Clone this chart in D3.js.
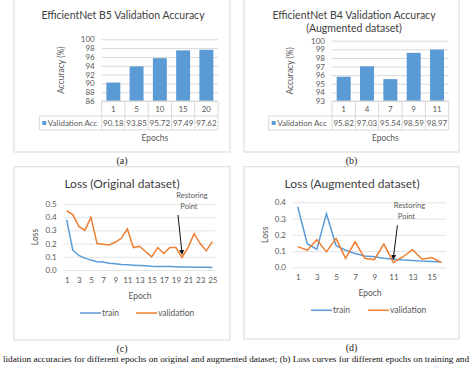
<!DOCTYPE html>
<html>
<head>
<meta charset="utf-8">
<script src="https://cdn.jsdelivr.net/npm/d3@7"></script>
<style>
  body { margin: 0; background: #fff; }
  svg { display: block; font-family: Lato, "Open Sans", sans-serif; }
</style>
</head>
<body>
<div id="chart"></div>
<script>
// chart data
var epochsB5 = ["1", "5", "10", "15", "20"];
var accB5 = [90.18, 93.85, 95.72, 97.49, 97.62];
var ticksB5 = [86, 88, 90, 92, 94, 96, 98, 100];

var epochsB4 = ["1", "4", "7", "9", "11"];
var accB4 = [95.82, 97.03, 95.54, 98.59, 98.97];
var ticksB4 = [93, 94, 95, 96, 97, 98, 99, 100];

var lossOrigTrain = [0.38, 0.15, 0.11, 0.09, 0.075, 0.063, 0.06, 0.052, 0.047, 0.042, 0.039, 0.036, 0.034,
  0.032, 0.028, 0.027, 0.027, 0.026, 0.025, 0.023, 0.022, 0.021, 0.02, 0.02, 0.018];
var lossOrigVal = [0.45, 0.42, 0.33, 0.30, 0.40, 0.20, 0.195, 0.19, 0.21, 0.24, 0.31, 0.17, 0.18,
  0.14, 0.10, 0.17, 0.125, 0.17, 0.17, 0.095, 0.17, 0.275, 0.20, 0.145, 0.215];
var ticksOrig = [0, 0.1, 0.2, 0.3, 0.4, 0.5];

var lossAugTrain = [0.373, 0.145, 0.11, 0.33, 0.135, 0.105, 0.085, 0.07, 0.065, 0.055, 0.05, 0.045,
  0.042, 0.038, 0.035, 0.033];
var lossAugVal = [0.127, 0.105, 0.17, 0.095, 0.178, 0.055, 0.157, 0.055, 0.047, 0.143, 0.03, 0.065,
  0.108, 0.05, 0.06, 0.03];
var ticksAug = [0, 0.1, 0.2, 0.3, 0.4];

var blue = "#5b9bd5";
var orange = "#ed7d31";
var border = "#d9d9d9";
var grid = "#e4e4e4";
var txt = "#595959";

var svg = d3.select("#chart")
  .append("svg")
  .attr("width", 474)
  .attr("height", 368);

svg.append("rect").attr("width", 474).attr("height", 368).attr("fill", "#fff");

// bar chart with data table underneath (panels a, b)
function barPanel(cfg) {
  var g = svg.append("g");

  g.append("rect")
    .attr("x", cfg.box[0]).attr("y", cfg.box[1])
    .attr("width", cfg.box[2] - cfg.box[0]).attr("height", cfg.box[3] - cfg.box[1])
    .attr("fill", "#fff").attr("stroke", border);

  cfg.title.forEach(function(t, i) {
    g.append("text")
      .attr("x", cfg.titleX).attr("y", cfg.titleY + i * 13.3)
      .attr("text-anchor", "middle")
      .attr("font-size", "10.5px").attr("fill", "#404040")
      .text(t);
  });

  var x = d3.scaleBand().domain(cfg.cats).range([cfg.left, cfg.right]).padding(0);
  var y = d3.scaleLinear().domain([cfg.ticks[0], cfg.ticks[cfg.ticks.length - 1]]).range([cfg.bottom, cfg.top]);

  // gridlines
  g.append("g")
    .attr("transform", `translate(${cfg.left},0)`)
    .call(d3.axisLeft(y).tickValues(cfg.ticks).tickSize(-(cfg.right - cfg.left)).tickFormat(""))
    .call(a => a.select(".domain").remove())
    .call(a => a.selectAll("line").attr("stroke", border));

  // y axis labels
  g.append("g")
    .attr("transform", `translate(${cfg.left - 5},0)`)
    .call(d3.axisLeft(y).tickValues(cfg.ticks).tickSize(0).tickPadding(2).tickFormat(d3.format("d")))
    .call(a => a.select(".domain").remove())
    .call(a => a.selectAll("text").attr("font-size", "8px").attr("fill", txt).attr("font-family", "Lato"));

  g.selectAll(".bar")
    .data(cfg.values)
    .enter()
    .append("rect")
    .attr("x", (d, i) => x(cfg.cats[i]) + x.bandwidth() * 0.2)
    .attr("width", x.bandwidth() * 0.6)
    .attr("y", d => y(d))
    .attr("height", d => cfg.bottom - y(d))
    .attr("fill", blue);

  // data table
  var rowMid = cfg.bottom + 15;
  var rowEnd = cfg.bottom + 29;
  var tl = g.append("g").attr("stroke", border).attr("fill", "none");
  tl.append("line").attr("x1", cfg.left).attr("x2", cfg.right).attr("y1", cfg.bottom).attr("y2", cfg.bottom);
  tl.append("line").attr("x1", cfg.tableLeft).attr("x2", cfg.right).attr("y1", rowMid).attr("y2", rowMid);
  tl.append("line").attr("x1", cfg.tableLeft).attr("x2", cfg.right).attr("y1", rowEnd).attr("y2", rowEnd);
  tl.append("line").attr("x1", cfg.tableLeft).attr("x2", cfg.tableLeft).attr("y1", rowMid).attr("y2", rowEnd);
  tl.selectAll(".v")
    .data(cfg.cats.concat(["end"]))
    .enter()
    .append("line")
    .attr("x1", (d, i) => cfg.left + i * x.step())
    .attr("x2", (d, i) => cfg.left + i * x.step())
    .attr("y1", cfg.bottom).attr("y2", rowEnd);

  g.selectAll(".cat")
    .data(cfg.cats)
    .enter()
    .append("text")
    .attr("x", d => x(d) + x.bandwidth() / 2)
    .attr("y", cfg.bottom + 10.5)
    .attr("text-anchor", "middle")
    .attr("font-size", "8px").attr("fill", txt)
    .text(d => d);

  g.selectAll(".val")
    .data(cfg.values)
    .enter()
    .append("text")
    .attr("x", (d, i) => x(cfg.cats[i]) + x.bandwidth() / 2)
    .attr("y", rowMid + 10)
    .attr("text-anchor", "middle")
    .attr("font-size", "8px").attr("fill", txt)
    .text(d => d.toFixed(2));

  g.append("rect")
    .attr("x", cfg.tableLeft + 3).attr("y", rowMid + 5)
    .attr("width", 4).attr("height", 4)
    .attr("fill", blue);
  g.append("text")
    .attr("x", cfg.tableLeft + 8.5).attr("y", rowMid + 10)
    .attr("font-size", "8px").attr("fill", txt)
    .text("Validation Acc");

  g.append("text")
    .attr("x", (cfg.left + cfg.right) / 2 - 5).attr("y", rowEnd + 11)
    .attr("text-anchor", "middle")
    .attr("font-size", "8.5px").attr("fill", txt)
    .text("Epochs");

  g.append("text")
    .attr("transform", `translate(${cfg.ylabX},${(cfg.top + cfg.bottom) / 2}) rotate(-90)`)
    .attr("text-anchor", "middle")
    .attr("font-size", "8.5px").attr("fill", txt)
    .text("Accuracy (%)");

  svg.append("text")
    .attr("x", (cfg.box[0] + cfg.box[2]) / 2).attr("y", cfg.box[3] + 12)
    .attr("text-anchor", "middle")
    .attr("font-family", "Liberation Serif")
    .attr("font-size", "10px").attr("fill", "#222")
    .text(cfg.tag);
}

// loss curves (panels c, d)
function linePanel(cfg) {
  var g = svg.append("g");
  var n = cfg.train.length;
  var epochs = d3.range(1, n + 1);

  g.append("rect")
    .attr("x", cfg.box[0]).attr("y", cfg.box[1])
    .attr("width", cfg.box[2] - cfg.box[0]).attr("height", cfg.box[3] - cfg.box[1])
    .attr("fill", "#fff").attr("stroke", border);

  g.append("text")
    .attr("x", cfg.titleX).attr("y", cfg.titleY)
    .attr("text-anchor", "middle")
    .attr("font-size", "12px").attr("fill", "#404040")
    .text(cfg.title);

  var x = d3.scaleLinear().domain([1, n]).range([cfg.x0, cfg.x1]);
  var half = (cfg.x1 - cfg.x0) / (n - 1) / 2;
  var y = d3.scaleLinear().domain([0, cfg.ticks[cfg.ticks.length - 1]]).range([cfg.bottom, cfg.top]);

  g.append("g")
    .attr("transform", `translate(${cfg.x0 - half},0)`)
    .call(d3.axisLeft(y).tickValues(cfg.ticks).tickSize(-(cfg.x1 - cfg.x0 + 2 * half)).tickFormat(""))
    .call(a => a.select(".domain").remove())
    .call(a => a.selectAll("line").attr("stroke", grid));

  g.append("g")
    .attr("transform", `translate(${cfg.x0 - half - 4},0)`)
    .call(d3.axisLeft(y).tickValues(cfg.ticks).tickSize(0).tickFormat(d3.format(".1f")))
    .call(a => a.select(".domain").remove())
    .call(a => a.selectAll("text").attr("font-size", "8px").attr("fill", txt).attr("font-family", "Lato"));

  g.append("g")
    .attr("transform", `translate(0,${cfg.bottom + 4})`)
    .call(d3.axisBottom(x).tickValues(epochs.filter(e => e % 2 === 1)).tickSize(0).tickFormat(d3.format("d")))
    .call(a => a.select(".domain").remove())
    .call(a => a.selectAll("text").attr("font-size", "8px").attr("fill", txt).attr("font-family", "Lato"));

  var line = d3.line().x((d, i) => x(i + 1)).y(d => y(d));

  g.append("path").datum(cfg.train)
    .attr("d", line).attr("fill", "none").attr("stroke", blue).attr("stroke-width", 1.5);
  g.append("path").datum(cfg.val)
    .attr("d", line).attr("fill", "none").attr("stroke", orange).attr("stroke-width", 1.5);

  // restoring point annotation
  var rx = x(cfg.restore), ry = y(cfg.val[cfg.restore - 1]);
  g.append("text")
    .attr("x", rx + cfg.noteDx).attr("y", cfg.top - 4 + cfg.noteDy)
    .attr("text-anchor", "middle")
    .attr("font-size", "7.5px").attr("fill", txt)
    .text("Restoring");
  g.append("text")
    .attr("x", rx + cfg.noteDx - 3).attr("y", cfg.top + 7 + cfg.noteDy)
    .attr("text-anchor", "middle")
    .attr("font-size", "7.5px").attr("fill", txt)
    .text("Point");
  g.append("line")
    .attr("x1", rx + cfg.arrowDx).attr("y1", cfg.top + 13 + cfg.noteDy)
    .attr("x2", rx).attr("y2", ry - 5)
    .attr("stroke", "#111").attr("stroke-width", 1)
    .attr("marker-end", "url(#arrow)");

  g.append("text")
    .attr("x", cfg.epochX).attr("y", cfg.bottom + 29)
    .attr("text-anchor", "middle")
    .attr("font-size", "8.5px").attr("fill", txt)
    .text("Epoch");

  g.append("text")
    .attr("transform", `translate(${cfg.ylabX},${(cfg.top + cfg.bottom) / 2}) rotate(-90)`)
    .attr("text-anchor", "middle")
    .attr("font-size", "8.5px").attr("fill", txt)
    .text("Loss");

  var legend = [["train", blue], ["validation", orange]];
  legend.forEach(function(l, i) {
    var lx = cfg.legendX + i * cfg.legendGap;
    g.append("line")
      .attr("x1", lx).attr("x2", lx + 21)
      .attr("y1", cfg.bottom + 43).attr("y2", cfg.bottom + 43)
      .attr("stroke", l[1]).attr("stroke-width", 1.5);
    g.append("text")
      .attr("x", lx + 22).attr("y", cfg.bottom + 46)
      .attr("font-size", "8.5px").attr("fill", txt)
      .text(l[0]);
  });

  svg.append("text")
    .attr("x", (cfg.box[0] + cfg.box[2]) / 2).attr("y", cfg.box[3] + 12)
    .attr("text-anchor", "middle")
    .attr("font-family", "Liberation Serif")
    .attr("font-size", "10px").attr("fill", "#222")
    .text(cfg.tag);
}

svg.append("defs").append("marker")
  .attr("id", "arrow")
  .attr("viewBox", "0 0 10 10")
  .attr("refX", 5).attr("refY", 5)
  .attr("markerWidth", 5).attr("markerHeight", 5)
  .attr("orient", "auto")
  .append("path").attr("d", "M0,0 L10,5 L0,10 z").attr("fill", "#111");

barPanel({
  box: [14, -5, 230, 152], title: ["EfficientNet B5 Validation Accuracy"], titleX: 123, titleY: 19,
  cats: epochsB5, values: accB5, ticks: ticksB5,
  left: 101.7, right: 218, top: 39.3, bottom: 101, tableLeft: 39.3, ylabX: 64, tag: "(a)"
});

barPanel({
  box: [244, -5, 459, 152], title: ["EfficientNet B4 Validation Accuracy", "(Augmented dataset)"],
  titleX: 354, titleY: 19,
  cats: epochsB4, values: accB4, ticks: ticksB4,
  left: 332, right: 448.7, top: 40.7, bottom: 101, tableLeft: 268.7, ylabX: 293, tag: "(b)"
});

linePanel({
  box: [14, 166.7, 230, 340], title: "Loss (Original dataset)", titleX: 122, titleY: 187.5,
  train: lossOrigTrain, val: lossOrigVal, ticks: ticksOrig,
  x0: 66.7, x1: 212.3, top: 204, bottom: 270, ylabX: 38,
  restore: 20, noteDx: 10, noteDy: -2, arrowDx: -4, epochX: 140, legendX: 80, legendGap: 56, tag: "(c)"
});

linePanel({
  box: [244, 166.7, 459, 339], title: "Loss (Augmented dataset)", titleX: 352, titleY: 187.5,
  train: lossAugTrain, val: lossAugVal, ticks: ticksAug,
  x0: 297.7, x1: 441.3, top: 202.3, bottom: 267.3, ylabX: 268,
  restore: 11, noteDx: 16, noteDy: 10, arrowDx: 4, epochX: 370, legendX: 311, legendGap: 57, tag: "(d)"
});

// figure caption at the bottom edge
svg.append("text")
  .attr("x", 3).attr("y", 362)
  .attr("font-family", "Liberation Serif")
  .attr("font-size", "9px").attr("fill", "#111")
  .attr("textLength", 466).attr("lengthAdjust", "spacingAndGlyphs")
  .text("lidation accuracies for different epochs on original and augmented dataset; (b) Loss curves for different epochs on training and");
</script>
</body>
</html>
